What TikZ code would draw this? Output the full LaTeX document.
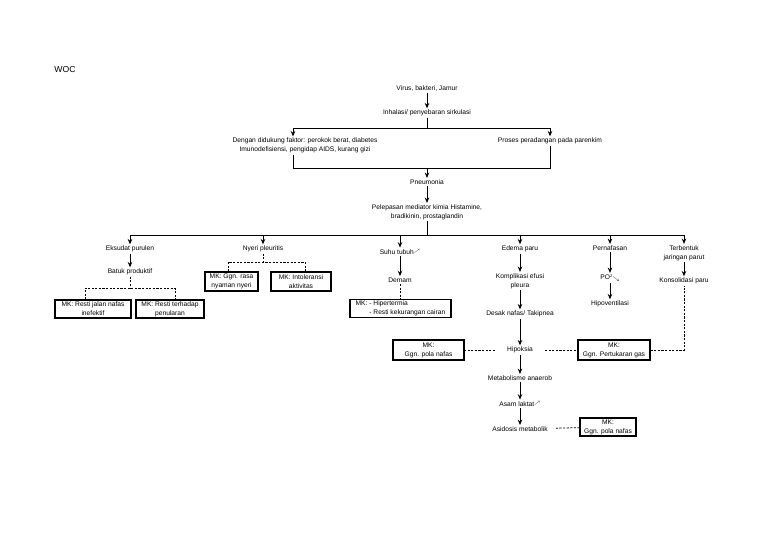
\documentclass[tikz,border=0pt]{standalone}
\usepackage{fontspec}
\setmainfont{Liberation Sans}
\usetikzlibrary{arrows.meta}
\newcommand{\fs}{\fontsize{5}{6.6}\selectfont}
\newcommand{\upar}{\raisebox{1.8pt}{\scalebox{0.7}{$\nearrow$}}}
\newcommand{\dnar}{\raisebox{-0.6pt}{\scalebox{0.8}{$\searrow$}}}
\begin{document}
\begin{tikzpicture}[x=0.75pt,y=-0.75pt,
  txt/.style={font=\fs,align=center,inner sep=1pt},
  mk/.style={draw,line width=0.9pt,font=\fs,align=center,inner sep=1pt},
  arr/.style={line width=0.6pt,-{Stealth[length=4pt,width=3.4pt]}},
  ln/.style={line width=0.6pt},
  dsh/.style={line width=0.6pt,dash pattern=on 1.6pt off 1.1pt}]
\useasboundingbox (0,0) rectangle (768,543);
\fill[white] (0,0) rectangle (768,543);

\node[font=\fontsize{6.5}{7}\selectfont,inner sep=0] (woc) at (65,70) {WOC};

\node[txt] (virus) at (427,89) {Virus, bakteri, Jamur};
\node[txt] (inh) at (427,113) {Inhalasi/ penyebaran sirkulasi};
\node[txt] (deng) at (305,145.5) {Dengan didukung faktor: perokok berat, diabetes\\Imunodefisiensi, pengidap AIDS, kurang gizi};
\node[txt] (pros) at (550,141) {Proses peradangan pada parenkim};
\node[txt] (pneu) at (427,182) {Pneumonia};
\node[txt] (pel) at (427,212) {Pelepasan mediator kimia Histamine,\\bradikinin, prostaglandin};

\node[txt] (eks) at (130,249) {Eksudat purulen};
\node[txt] (bat) at (130,272) {Batuk produktif};
\node[mk,minimum width=76*0.75pt,minimum height=18*0.75pt] (mk1) at (93,309) {MK: Resti jalan nafas\\inefektif};
\node[mk,minimum width=68*0.75pt,minimum height=18*0.75pt] (mk2) at (170,309) {MK: Resti terhadap\\penularan};

\node[txt] (nyeri) at (263,249) {Nyeri pleuritis};
\node[mk,minimum width=53*0.75pt,minimum height=19*0.75pt] (mk3) at (231.5,281.5) {MK: Ggn. rasa\\nyaman nyeri};
\node[mk,minimum width=60*0.75pt,minimum height=19*0.75pt] (mk4) at (301,281.5) {MK: Intoleransi\\aktivitas};

\node[txt] (suhu) at (400,252) {Suhu tubuh\upar};
\node[txt] (demam) at (400,280) {Demam};
\node[mk,align=left,minimum width=101*0.75pt,minimum height=17*0.75pt] (mk5) at (400.5,308.5) {MK: - Hipertermia\\\hphantom{MK: }- Resti kekurangan cairan};

\node[txt] (edema) at (520,249) {Edema paru};
\node[txt] (komp) at (520,281) {Komplikasi efusi\\pleura};
\node[txt] (desak) at (520,314) {Desak nafas/ Takipnea};
\node[txt] (hip) at (520,350) {Hipoksia};
\node[mk,minimum width=71*0.75pt,minimum height=20*0.75pt] (mk6) at (428.5,350) {MK:\\Ggn. pola nafas};
\node[mk,minimum width=72*0.75pt,minimum height=20*0.75pt] (mk7) at (614,350) {MK:\\Ggn. Pertukaran gas};

\node[txt] (pern) at (610,248) {Pernafasan};
\node[txt] (po) at (610,278) {PO\raisebox{1.8pt}{\scalebox{0.6}{2}}\dnar};
\node[txt] (hipov) at (610,304) {Hipoventilasi};

\node[txt] (terb) at (684,253) {Terbentuk\\jaringan parut};
\node[txt] (kons) at (684,281) {Konsolidasi paru};

\node[txt] (meta) at (520,378) {Metabolisme anaerob};
\node[txt] (asam) at (520,404) {Asam laktat\upar};
\node[txt] (asid) at (520,429) {Asidosis metabolik};
\node[mk,minimum width=56*0.75pt,minimum height=18*0.75pt] (mk8) at (608,427) {MK:\\Ggn. pola nafas};

% top part
\draw[arr] (virus) -- (inh);
\coordinate (j1) at (427,128);
\coordinate (jl) at (293,128);
\coordinate (jr) at (550,128);
\draw[ln] (inh) -- (j1);
\draw[ln] (jl) -- (jr);
\draw[arr] (jl) -- (jl |- deng.north);
\draw[arr] (jr) -- (pros);
\coordinate (k1) at (427,168);
\coordinate (kl) at (293,168);
\coordinate (kr) at (550,168);
\draw[ln] (kl |- deng.south) -- (kl) -- (kr) -- (pros);
\draw[arr] (k1) -- (pneu);
\draw[arr] (pneu) -- (pel);

% distribution line
\coordinate (m1) at (427,235);
\coordinate (ml) at (130,235);
\coordinate (mr) at (684,235);
\draw[ln] (pel) -- (m1);
\draw[ln] (ml) -- (mr);
\draw[arr] (ml) -- (eks);
\draw[arr] (ml -| nyeri) -- (nyeri);
\draw[arr] (ml -| suhu) -- (suhu);
\draw[arr] (ml -| edema) -- (edema);
\draw[arr] (ml -| pern) -- (pern);
\draw[arr] (mr) -- (terb);

% eksudat branch
\draw[arr] (eks) -- (bat);
\coordinate (b1) at (130,288);
\coordinate (bl) at (85,288);
\coordinate (br) at (175,288);
\draw[dsh] (bat) -- (b1);
\draw[dsh] (bl |- mk1.north) -- (bl) -- (br) -- (br |- mk2.north);

% nyeri branch
\coordinate (n1) at (263,262);
\coordinate (nl) at (228,262);
\coordinate (nr) at (305,262);
\draw[dsh] (nyeri) -- (n1);
\draw[dsh] (nl |- mk3.north) -- (nl) -- (nr) -- (nr |- mk4.north);

% suhu branch
\draw[arr] (suhu) -- (demam);
\draw[dsh] (demam) -- (demam |- mk5.north);

% edema branch
\draw[arr] (edema) -- (komp);
\draw[arr] (komp) -- (desak);
\draw[arr] (desak) -- (hip);
\draw[dsh,shorten <=8pt] (hip) -- (mk6);
\draw[dsh,shorten <=8pt] (hip) -- (mk7);
\coordinate (c1) at (684,350);
\draw[dsh] (mk7) -- (c1) -- (kons);
\draw[arr] (hip) -- (meta);
\draw[arr] (meta) -- (asam);
\draw[arr] (asam) -- (asid);
\draw[dsh,shorten <=5pt] (asid) -- (mk8);

% pernafasan branch
\draw[arr] (pern) -- (po);
\draw[arr] (po) -- (hipov);

% terbentuk branch
\draw[arr] (terb) -- (kons);
\end{tikzpicture}
\end{document}
